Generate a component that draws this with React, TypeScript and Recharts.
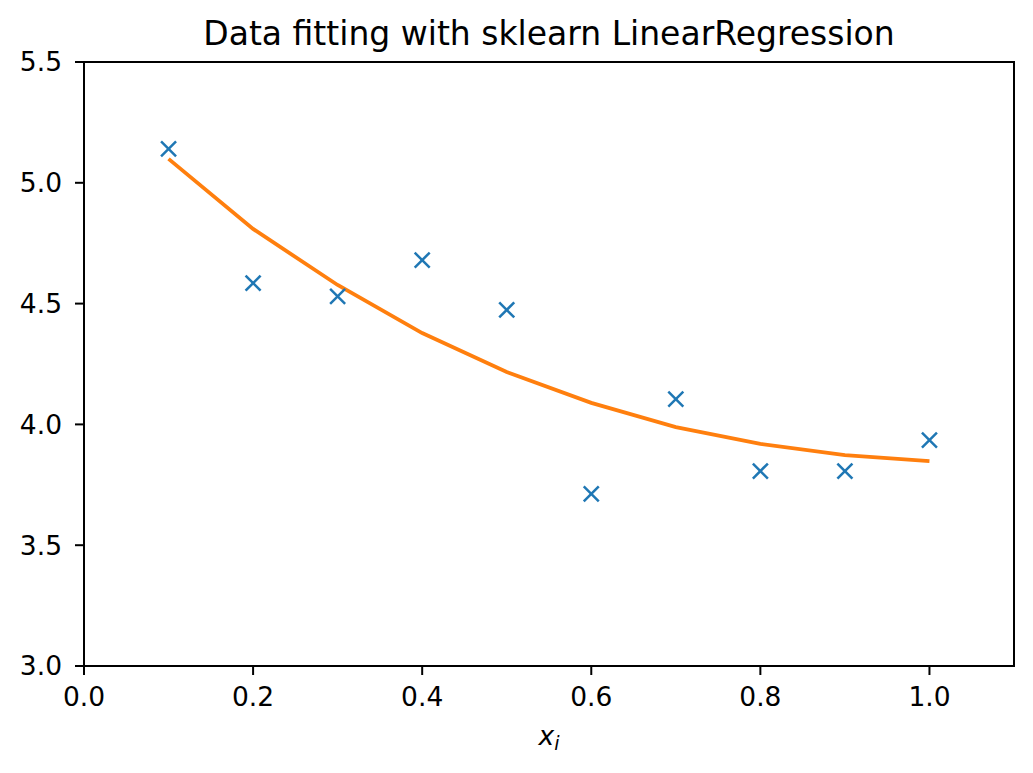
import React from 'react';
import {
  ComposedChart,
  Line,
  Scatter,
  XAxis,
  YAxis,
  ReferenceArea,
} from 'recharts';

const xValues = [0.1, 0.2, 0.3, 0.4, 0.5, 0.6, 0.7, 0.8, 0.9, 1.0];
const observed = [5.14, 4.585, 4.53, 4.68, 4.474, 3.712, 4.105, 3.807, 3.807, 3.935];
const fitted = [5.099, 4.809, 4.577, 4.378, 4.217, 4.089, 3.989, 3.919, 3.873, 3.848];

const xTicks = [0, 0.2, 0.4, 0.6, 0.8, 1.0];
const yTicks = [3.0, 3.5, 4.0, 4.5, 5.0, 5.5];

const data = xValues.map((x, i) => ({ x, observed: observed[i], fitted: fitted[i] }));

const FONT = '"DejaVu Sans", sans-serif';
const BLUE = '#1f77b4';
const ORANGE = '#ff7f0e';

const tickStyle = { fontFamily: FONT, fontSize: 26.5, fill: '#000' };

function XMarker(props: any) {
  const { cx, cy } = props;
  if (cx == null || cy == null) return null;
  const r = 7.5;
  return (
    <g stroke={BLUE} strokeWidth={2.5}>
      <line x1={cx - r} y1={cy - r} x2={cx + r} y2={cy + r} />
      <line x1={cx - r} y1={cy + r} x2={cx + r} y2={cy - r} />
    </g>
  );
}

export default function App() {
  return (
    <div style={{ position: 'absolute', left: 0, top: 0, width: 1033, height: 773, background: '#fff' }}>
      <ComposedChart
        width={1033}
        height={773}
        data={data}
        margin={{ top: 62, right: 19, bottom: 0, left: 0 }}
      >
        <XAxis
          type="number"
          dataKey="x"
          domain={[0, 1.1]}
          ticks={xTicks}
          tickFormatter={(v: number) => v.toFixed(1)}
          height={107}
          tickSize={9}
          tickMargin={12}
          tick={tickStyle}
          tickLine={{ stroke: '#000', strokeWidth: 2 }}
          axisLine={{ stroke: '#000', strokeWidth: 2 }}
          allowDataOverflow
        />
        <YAxis
          type="number"
          domain={[3, 5.5]}
          ticks={yTicks}
          tickFormatter={(v: number) => v.toFixed(1)}
          width={84}
          tickSize={9}
          tickMargin={13}
          tick={tickStyle}
          tickLine={{ stroke: '#000', strokeWidth: 2 }}
          axisLine={{ stroke: '#000', strokeWidth: 2 }}
          allowDataOverflow
        />
        {/* frame: top and right spines */}
        <ReferenceArea
          x1={0}
          x2={1.1}
          y1={3}
          y2={5.5}
          fill="none"
          fillOpacity={0}
          stroke="#000"
          strokeWidth={2}
          ifOverflow="visible"
        />
        <Line
          type="linear"
          dataKey="fitted"
          stroke={ORANGE}
          strokeWidth={3.8}
          dot={false}
          activeDot={false}
          isAnimationActive={false}
        />
        <Scatter
          dataKey="observed"
          fill={BLUE}
          shape={<XMarker />}
          isAnimationActive={false}
        />
      </ComposedChart>
      <svg
        width={1033}
        height={773}
        style={{ position: 'absolute', left: 0, top: 0, pointerEvents: 'none' }}
      >
        <text x={549} y={45} textAnchor="middle" fontFamily={FONT} fontSize={33} fill="#000">
          Data fitting with sklearn LinearRegression
        </text>
        <text x={549} y={745} textAnchor="middle" fontFamily={FONT} fontSize={26.5} fill="#000">
          <tspan fontStyle="italic">x</tspan>
          <tspan fontStyle="italic" fontSize={19} dy={5}>i</tspan>
        </text>
      </svg>
    </div>
  );
}
